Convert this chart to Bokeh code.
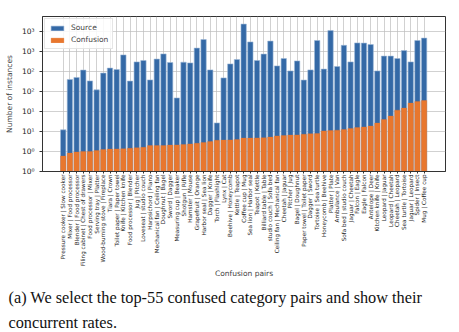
import math
from bokeh.plotting import figure
from bokeh.models import Range1d, FixedTicker, Title, ColumnDataSource
from bokeh.embed import file_html
from bokeh.resources import INLINE

pairs = [
    "Pressure cooker | Slow cooker", "Mixer | Food processor", "Blender | Food processor",
    "Filing cabinet | Chest of drawers", "Food processor | Mixer", "Serving tray | Platter",
    "Wood-burning stove | Fireplace", "Tiara | Crown", "Toilet paper | Paper towel",
    "Knife | Kitchen knife", "Food processor | Blender", "Jug | Pitcher",
    "Loveseat | studio couch", "Harpsichord | Piano", "Mechanical fan | Ceiling fan",
    "Doughnut | Bagel", "Sword | Dagger", "Measuring cup | Beaker", "Shotgun | Rifle",
    "Hamster | Mouse", "Grapefruit | Orange", "Harbor seal | Sea lion", "Dagger | Knife",
    "Torch | Flashlight", "Lynx | Cat", "Beehive | Honeycomb", "Kettle | Teapot",
    "Coffee cup | Mug", "Sea lion | Harbor seal", "Teapot | Kettle", "Billiard table | Table",
    "studio couch | Sofa bed", "Ceiling fan | Mechanical fan", "Cheetah | Jaguar",
    "Pitcher | Jug", "Bagel | Doughnut", "Paper towel | Toilet paper", "Dagger | Sword",
    "Tortoise | Sea turtle", "Honeycomb | Beehive", "Platter | Plate", "Ambulance | Van",
    "Sofa bed | studio couch", "Jaguar | Cheetah", "Falcon | Eagle", "Eagle | Falcon",
    "Antelope | Deer", "Kitchen knife | Knife", "Leopard | Jaguar", "Leopard | Cheetah",
    "Cheetah | Leopard", "Sea turtle | Tortoise", "Jaguar | Leopard", "Spider | Insect",
    "Mug | Coffee cup",
]

source_counts = [
    11, 200, 224, 343, 184, 110, 288, 385, 355, 822,
    182, 550, 596, 195, 646, 871, 531, 69, 540, 519,
    1216, 1995, 347, 16.4, 219, 490, 631, 4842, 1738, 596,
    861, 1820, 437, 668, 327, 582, 193, 347, 1884, 363,
    3350, 422, 1429, 550, 1641, 1622, 1496, 327, 767, 767,
    668, 1059, 550, 1884, 2163,
]

confusion_counts = [
    2.43, 2.88, 3.06, 3.16, 3.16, 3.35, 3.55, 3.63, 3.67, 3.71,
    3.80, 3.94, 4.03, 4.47, 4.47, 4.47, 4.57, 4.62, 4.73, 4.90,
    5.07, 5.31, 5.62, 6.03, 6.10, 6.17, 6.31, 6.84, 6.84, 6.92,
    7.0, 7.24, 7.76, 7.94, 8.13, 8.22, 8.51, 8.81, 8.91, 10.35,
    10.6, 10.8, 11.2, 11.9, 12.6, 13.0, 13.7, 16.2, 20.0, 24.3,
    34.2, 38.5, 51.3, 56.2, 59.6,
]

y_tick_values = [1, 3.1622776601683795, 10, 31.622776601683793, 100,
                 316.22776601683796, 1000, 3162.2776601683795]
y_tick_labels = ["10⁰", "10⁰", "10¹", "10¹", "10²", "10²", "10³", "10³"]

FONT = "DejaVu Sans"
BLUE = "#3469a6"
ORANGE = "#e8772e"

xs = list(range(len(pairs)))
src = ColumnDataSource(dict(x=xs, source=source_counts, confusion=confusion_counts))

p = figure(frame_width=403, frame_height=155, output_backend="svg", toolbar_location=None,
           x_range=Range1d(-3.1, 57.2), y_range=Range1d(1, 7499), y_axis_type="log",
           min_border_left=42, min_border_right=14, min_border_top=16, min_border_bottom=0)

p.vbar(x="x", top="source", bottom=1, width=0.8, source=src, fill_color=BLUE,
       line_color="#9db8d6", line_width=0.6, legend_label="Source")
p.vbar(x="x", top="confusion", bottom=1, width=0.8, source=src, fill_color=ORANGE,
       line_color=ORANGE, line_width=0.3, legend_label="Confusion")

# axes
p.xaxis.ticker = FixedTicker(ticks=xs)
p.xaxis.major_label_overrides = {i: name for i, name in enumerate(pairs)}
p.xaxis.major_label_orientation = math.pi / 2
p.xaxis.major_label_text_font = FONT
p.xaxis.major_label_text_font_size = "5.7px"
p.xaxis.major_label_text_color = "#222222"
p.xaxis.major_label_standoff = 1
p.xaxis.major_tick_out = 2
p.xaxis.major_tick_in = 0
p.xaxis.minor_tick_out = 0
p.xaxis.axis_label = "Confusion pairs"
p.xaxis.axis_label_text_font = FONT
p.xaxis.axis_label_text_font_size = "7.5px"
p.xaxis.axis_label_text_font_style = "normal"
p.xaxis.axis_label_standoff = 0

p.yaxis.ticker = FixedTicker(ticks=y_tick_values, minor_ticks=[])
p.yaxis.major_label_overrides = {v: lab for v, lab in zip(y_tick_values, y_tick_labels)}
p.yaxis.major_label_text_font = FONT
p.yaxis.major_label_text_font_size = "7.5px"
p.yaxis.major_label_text_color = "#222222"
p.yaxis.major_tick_out = 3
p.yaxis.major_tick_in = 0
p.yaxis.minor_tick_out = 0
p.yaxis.minor_tick_in = 0
p.yaxis.axis_label = "Number of instances"
p.yaxis.axis_label_text_font = FONT
p.yaxis.axis_label_text_font_size = "7.5px"
p.yaxis.axis_label_text_font_style = "normal"
p.yaxis.axis_label_standoff = 5

for ax in (p.xaxis[0], p.yaxis[0]):
    ax.axis_line_color = "#333333"
    ax.major_tick_line_color = "#333333"

p.outline_line_color = "#333333"
p.outline_line_width = 1

p.xgrid.ticker = FixedTicker(ticks=xs)
p.xgrid.grid_line_color = "#bdbdbd"
p.xgrid.grid_line_alpha = 0.7
p.ygrid.grid_line_color = "#bdbdbd"
p.ygrid.grid_line_alpha = 0.7

# legend
lg = p.legend[0]
lg.location = "top_left"
lg.label_text_font = FONT
lg.label_text_font_size = "7.5px"
lg.glyph_width = 16
lg.glyph_height = 6
lg.label_height = 8
lg.label_standoff = 6
lg.spacing = 3
lg.padding = 4
lg.margin = 2
lg.border_line_color = "#cccccc"
lg.background_fill_alpha = 0.85

# caption
cap1 = Title(text="(a) We select the top-55 confused category pairs and show their",
             text_font="Liberation Serif", text_font_size="16.3px", text_font_style="normal",
             text_color="#111111", align="left", offset=-34, standoff=8)
cap2 = Title(text="concurrent rates.", text_font="Liberation Serif", text_font_size="16.3px",
             text_font_style="normal", text_color="#111111", align="left", offset=-34, standoff=1)
p.add_layout(cap1, "below")
p.add_layout(cap2, "below")

open("out.html", "w").write(file_html(p, INLINE))
